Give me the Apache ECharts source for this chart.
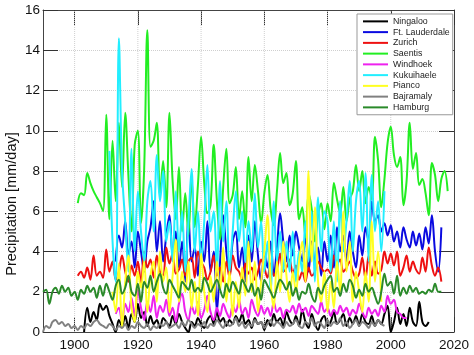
<!DOCTYPE html>
<html>
<head>
<meta charset="utf-8">
<script src="https://cdn.jsdelivr.net/npm/echarts@6/dist/echarts.min.js"></script>
<style>html,body{margin:0;padding:0;background:#fff}#c{width:474px;height:355px}</style>
</head>
<body>
<div id="c"></div>
<script>
const xTicks = [1900, 1920, 1940, 1960, 1980, 2000, 2020];
const yMin = 0, yMax = 16, yStep = 2;
const stationNames = ['Ningaloo', 'Ft. Lauderdale', 'Zurich', 'Saentis', 'Windhoek', 'Kukuihaele', 'Pianco', 'Bajramaly', 'Hamburg'];
const stationColors = ['#000000', '#0a0ae0', '#ee1111', '#22ee22', '#ee22ee', '#22eeff', '#ffff22', '#808080', '#2a8a2a'];

const ningalooStart = 1903;
const ningaloo = [0.0,1.2,0.5,1.0,0.6,1.4,1.1,1.3,0.8,0.4,0.0,0.6,0.3,0.8,0.2,0.9,0.5,1.4,0.7,1.0,0.3,0.8,0.4,0.6,0.2,0.7,0.5,0.3,0.8,0.4,0.9,0.5,0.2,0.0,0.5,0.3,0.7,0.4,0.2,0.6,0.8,0.4,1.0,0.5,0.7,0.3,0.6,0.4,0.8,0.5,0.9,0.4,0.6,0.2,0.7,0.4,0.5,0.1,0.6,0.3,0.9,0.5,0.7,0.3,1.0,0.6,0.4,0.8,0.3,1.1,0.5,0.2,0.9,0.4,0.1,0.6,0.8,0.3,0.5,1.0,0.4,0.6,0.9,0.3,0.7,0.4,0.8,0.3,0.9,0.5,0.4,0.8,0.3,0.6,0.4,0.9,1.3,0.0,0.5,1.2,0.4,0.9,0.3,1.2,0.5,0.3,1.5,0.5,0.3,0.5];

const lauderdaleStart = 1913;
const lauderdale = [3.5,4.8,4.2,5.5,3.8,4.5,3.2,5.0,4.0,3.0,4.5,5.2,6.5,4.0,5.5,3.5,4.8,5.8,3.8,5.0,3.2,4.5,2.5,5.8,3.5,4.2,2.8,4.5,3.5,5.5,3.0,4.0,1.0,3.5,5.8,4.0,2.8,4.5,5.0,3.2,4.2,2.5,4.8,3.5,5.5,3.8,2.5,4.0,3.2,4.5,2.8,4.2,5.9,4.5,3.5,4.8,3.8,5.0,4.2,3.5,4.8,3.0,4.5,3.5,4.2,2.8,4.5,3.5,4.8,3.2,5.2,4.0,4.8,3.5,5.0,4.0,3.2,4.8,3.8,5.2,4.5,6.5,5.5,5.8,5.0,5.4,4.8,5.3,4.5,5.0,4.2,5.2,4.6,4.2,5.0,4.3,4.9,4.1,5.2,4.4,5.8,4.0,3.0,5.2];

const zurichStart = 1901;
const zurich = [2.8,3.0,2.7,3.2,2.6,3.8,2.8,3.0,2.7,4.1,3.0,3.5,2.6,3.0,3.8,3.0,2.5,3.3,2.8,3.5,2.4,4.0,3.2,3.6,2.7,3.8,3.0,2.8,4.2,3.4,3.9,2.9,3.1,3.6,2.8,3.5,3.7,2.7,4.0,3.5,3.2,2.6,3.0,3.8,2.8,3.2,2.5,3.5,2.7,3.8,3.2,3.0,2.6,3.4,2.9,3.2,2.6,3.0,3.6,3.2,2.7,3.4,2.8,3.1,3.9,3.0,3.2,3.6,2.9,3.3,2.6,3.0,2.5,3.2,2.8,3.0,3.5,3.2,3.0,3.1,2.9,3.8,3.4,3.6,3.0,3.2,3.5,3.0,2.7,2.9,3.7,2.6,3.8,2.8,3.5,2.9,3.1,4.0,3.4,3.9,3.3,4.0,2.8,3.2,3.8,3.0,3.5,3.1,2.9,3.7,3.0,4.2,3.3,2.8,3.2,2.5];

const saentisStart = 1901;
const saentis = [6.4,6.9,6.8,7.9,7.4,7.0,6.7,6.4,6.0,10.8,5.6,9.5,6.5,10.4,7.2,10.9,7.8,5.0,9.3,10.0,5.4,8.1,15.0,9.2,9.5,10.4,6.8,8.5,6.2,10.9,7.5,5.6,8.2,5.0,6.9,4.8,7.6,5.2,7.3,9.7,7.4,5.9,6.3,9.3,6.5,4.6,7.2,9.1,6.4,6.8,8.2,5.6,7.0,5.2,8.7,6.5,8.3,7.0,5.4,6.9,7.8,6.1,5.3,7.0,8.9,7.4,7.9,6.3,6.9,8.5,5.6,6.2,4.7,6.9,6.1,4.5,5.8,6.4,5.1,6.4,5.5,7.4,6.6,5.9,7.2,5.5,6.6,7.0,8.3,7.0,8.0,6.4,7.2,6.6,9.7,8.5,6.2,7.6,9.4,10.2,8.8,8.2,8.7,6.3,7.5,10.4,8.1,8.9,7.3,7.6,6.9,5.8,8.4,7.8,6.5,7.6,8.0,7.0];

const windhoekStart = 1913;
const windhoek = [0.9,1.2,0.5,1.4,1.0,1.7,0.8,2.1,1.2,0.6,1.5,1.0,1.8,0.7,1.3,1.0,1.6,0.8,1.2,0.5,1.4,1.9,1.0,0.6,1.3,0.9,1.5,0.7,1.1,1.8,1.0,0.6,1.2,0.8,1.4,1.0,0.7,1.3,1.0,1.6,0.9,1.2,0.7,1.6,1.1,0.8,1.3,0.9,1.2,0.8,1.5,1.0,1.2,0.7,1.1,1.0,1.3,0.9,1.4,1.0,1.2,0.8,1.3,1.1,0.9,1.5,1.0,1.2,0.8,1.1,0.9,1.3,1.0,1.2,0.8,1.1,0.9,1.4,1.0,0.7,1.2,0.9,1.1,0.8,1.3,1.0,1.8,1.4,1.6,1.0,0.9,0.7,0.7];

const kukuihaeleStart = 1911;
const kukuihaele = [9.0,4.5,2.5,14.6,8.0,5.5,3.0,9.1,4.0,7.0,5.0,3.5,6.5,7.5,5.0,8.8,6.5,8.0,4.5,5.5,3.5,7.0,4.0,6.0,3.0,5.5,8.1,4.0,6.0,3.5,5.5,8.3,5.0,6.0,3.0,7.5,4.5,6.5,3.0,5.0,7.0,4.5,6.0,3.5,5.5,4.0,6.9,4.2,5.5,3.0,4.5,2.0,6.5,3.5,5.0,3.0,4.5,3.0,5.0,2.5,4.0,3.0,5.5,3.5,6.0,2.5,6.7,4.0,6.0,5.5,3.0,5.5,2.5,6.5,4.0,5.5,7.5,4.0,6.5,7.5,5.0,7.9,3.5,7.8,5.0,6.5,4.0,7.0];

const piancoStart = 1912;
const pianco = [2.0,1.0,3.4,0.2,2.5,3.8,1.2,0.5,3.0,2.2,3.5,1.0,2.8,3.5,1.5,4.0,2.5,3.2,1.0,2.8,4.6,1.5,3.0,2.0,3.5,1.2,2.5,0.8,3.9,2.0,1.0,2.8,1.5,3.5,2.0,4.2,1.5,3.0,0.8,2.5,1.2,3.2,1.8,4.5,2.0,3.5,1.0,2.5,4.0,5.8,2.5,1.2,3.5,2.0,4.5,2.8,1.5,3.0,2.0,3.5,4.5,2.5,8.0,3.5,6.2,2.5,1.5,3.0,1.0,2.5,1.2,3.5,2.0,6.0,3.0,4.5,1.5,3.0,2.0,1.0,3.0,1.5,5.5,2.5,4.0,1.5];

const bajramalyStart = 1890;
const bajramaly = [0.0,0.3,0.2,0.5,0.6,0.4,0.5,0.3,0.4,0.2,0.3,0.1,0.3,0.2,0.4,0.3,0.5,0.6,0.4,0.3,0.2,0.4,0.3,0.1,0.3,0.2,0.4,0.1,0.3,0.2,0.5,0.3,0.2,0.4,0.1,0.3,0.2,0.4,0.3,0.5,0.2,0.3,0.4,0.2,0.5,0.3,0.6,0.4,0.2,0.4,0.3,0.5,0.2,0.4,0.3,0.6,0.4,0.2,0.5,0.3,0.4,0.7,0.3,0.5,0.2,0.4,0.3,0.6,0.4,0.5,0.2,0.4,0.6,0.3,0.5,0.4,0.2,0.5,0.3,0.4,0.6,0.3,0.2,0.5,0.4,0.7,0.3,0.5,0.4,0.2,0.6,0.3,0.5,0.4,0.7,0.3,0.5,0.2,0.4,0.6,0.3,0.5,0.4,0.2,0.5,0.3,0.6,0.4,0.3];

const hamburgStart = 1890;
const hamburg = [2.0,2.1,1.4,2.0,2.2,1.9,2.3,2.0,2.2,1.8,2.0,1.6,2.1,1.9,2.3,2.0,2.2,1.7,2.3,1.8,2.4,2.0,1.6,2.3,2.6,1.9,2.2,2.8,2.0,1.8,2.4,1.5,2.5,2.2,2.8,2.0,2.5,2.9,2.2,1.9,2.6,2.3,2.0,1.7,2.5,2.3,2.1,2.6,2.0,2.2,2.0,2.7,2.4,2.0,2.3,2.6,2.1,1.7,2.4,2.0,2.5,2.2,1.9,2.6,2.3,2.0,2.4,1.8,2.2,1.6,2.6,2.3,2.0,1.7,2.2,2.6,2.4,2.1,2.5,1.8,2.2,1.6,2.0,1.9,2.4,1.8,1.5,2.2,1.9,2.3,2.6,2.8,2.0,2.2,1.8,2.4,2.0,2.6,2.3,1.7,2.1,1.8,2.4,2.0,2.2,1.8,1.4,2.0,2.9,2.3,2.5,1.9,2.8,1.8,2.2,1.9,2.3,2.0,2.2,1.9,2.0,1.9,2.1,2.0,2.4,2.0,2.0];

const starts = [ningalooStart, lauderdaleStart, zurichStart, saentisStart, windhoekStart, kukuihaeleStart, piancoStart, bajramalyStart, hamburgStart];
const values = [ningaloo, lauderdale, zurich, saentis, windhoek, kukuihaele, pianco, bajramaly, hamburg];

const FONT = 'Liberation Sans, Arial, Helvetica, sans-serif';
const tickCommon = { show: true, inside: true, length: 15, lineStyle: { color: '#333', width: 1 } };
const lineCommon = { show: true, onZero: false, lineStyle: { color: '#444', width: 1 } };

const series = stationNames.map((name, k) => ({
  name: name,
  type: 'line',
  xAxisIndex: 0,
  yAxisIndex: 0,
  showSymbol: false,
  symbol: 'none',
  smooth: 0.35,
  data: values[k].map((v, i) => [starts[k] + i, v]),
  lineStyle: { color: stationColors[k], width: 2 },
  itemStyle: { color: stationColors[k] },
  animation: false
}));

const gridSeries = xTicks.slice(0, -1).map(t => ({
  type: 'line', xAxisIndex: 0, yAxisIndex: 0, silent: true, symbol: 'none',
  data: [[t, yMin], [t, yMax]],
  lineStyle: { color: '#cfcfcf', type: 'dotted', width: 1 }, z: 1, animation: false
}));

const chart = echarts.init(document.getElementById('c'));
chart.setOption({
  animation: false,
  backgroundColor: '#fff',
  textStyle: { fontFamily: FONT },
  grid: { left: 43, right: 20, top: 10, bottom: 23, containLabel: false },
  xAxis: [
    {
      type: 'value', position: 'bottom', min: 1890, max: 2020,
      axisLine: lineCommon,
      axisTick: Object.assign({ customValues: xTicks }, tickCommon),
      axisLabel: { customValues: xTicks, formatter: v => String(v), color: '#111', fontSize: 13.5, margin: 6, fontFamily: FONT },
      splitLine: { show: false }
    },
    {
      type: 'value', position: 'top', min: 1890, max: 2020,
      axisLine: lineCommon,
      axisTick: Object.assign({ customValues: xTicks }, tickCommon),
      axisLabel: { show: false },
      splitLine: { show: false }
    }
  ],
  yAxis: [
    {
      type: 'value', position: 'left', min: yMin, max: yMax, interval: yStep,
      axisLine: lineCommon,
      axisTick: tickCommon,
      axisLabel: { color: '#111', fontSize: 13.5, margin: 3, fontFamily: FONT },
      splitLine: { show: true, lineStyle: { color: '#cfcfcf', type: 'dotted', width: 1 } }
    },
    {
      type: 'value', position: 'right', min: yMin, max: yMax, interval: yStep,
      axisLine: lineCommon,
      axisTick: tickCommon,
      axisLabel: { show: false },
      splitLine: { show: false }
    }
  ],
  legend: {
    data: stationNames,
    orient: 'vertical',
    left: 357,
    top: 14,
    backgroundColor: '#fff',
    borderColor: '#999',
    borderWidth: 1,
    borderRadius: 0,
    padding: [2, 3, 2, 6],
    itemGap: 0,
    itemWidth: 25,
    itemHeight: 2,
    icon: 'rect',
    textStyle: { fontSize: 8.8, lineHeight: 10.75, color: '#222', fontFamily: FONT },
    selectedMode: false
  },
  graphic: [
    {
      type: 'text',
      x: 12, y: 204,
      rotation: Math.PI / 2,
      style: { text: 'Precipitation [mm/day]', font: '14.5px ' + FONT, fill: '#111', textAlign: 'center', textVerticalAlign: 'middle' }
    }
  ],
  series: gridSeries.concat(series)
});
</script>
</body>
</html>
